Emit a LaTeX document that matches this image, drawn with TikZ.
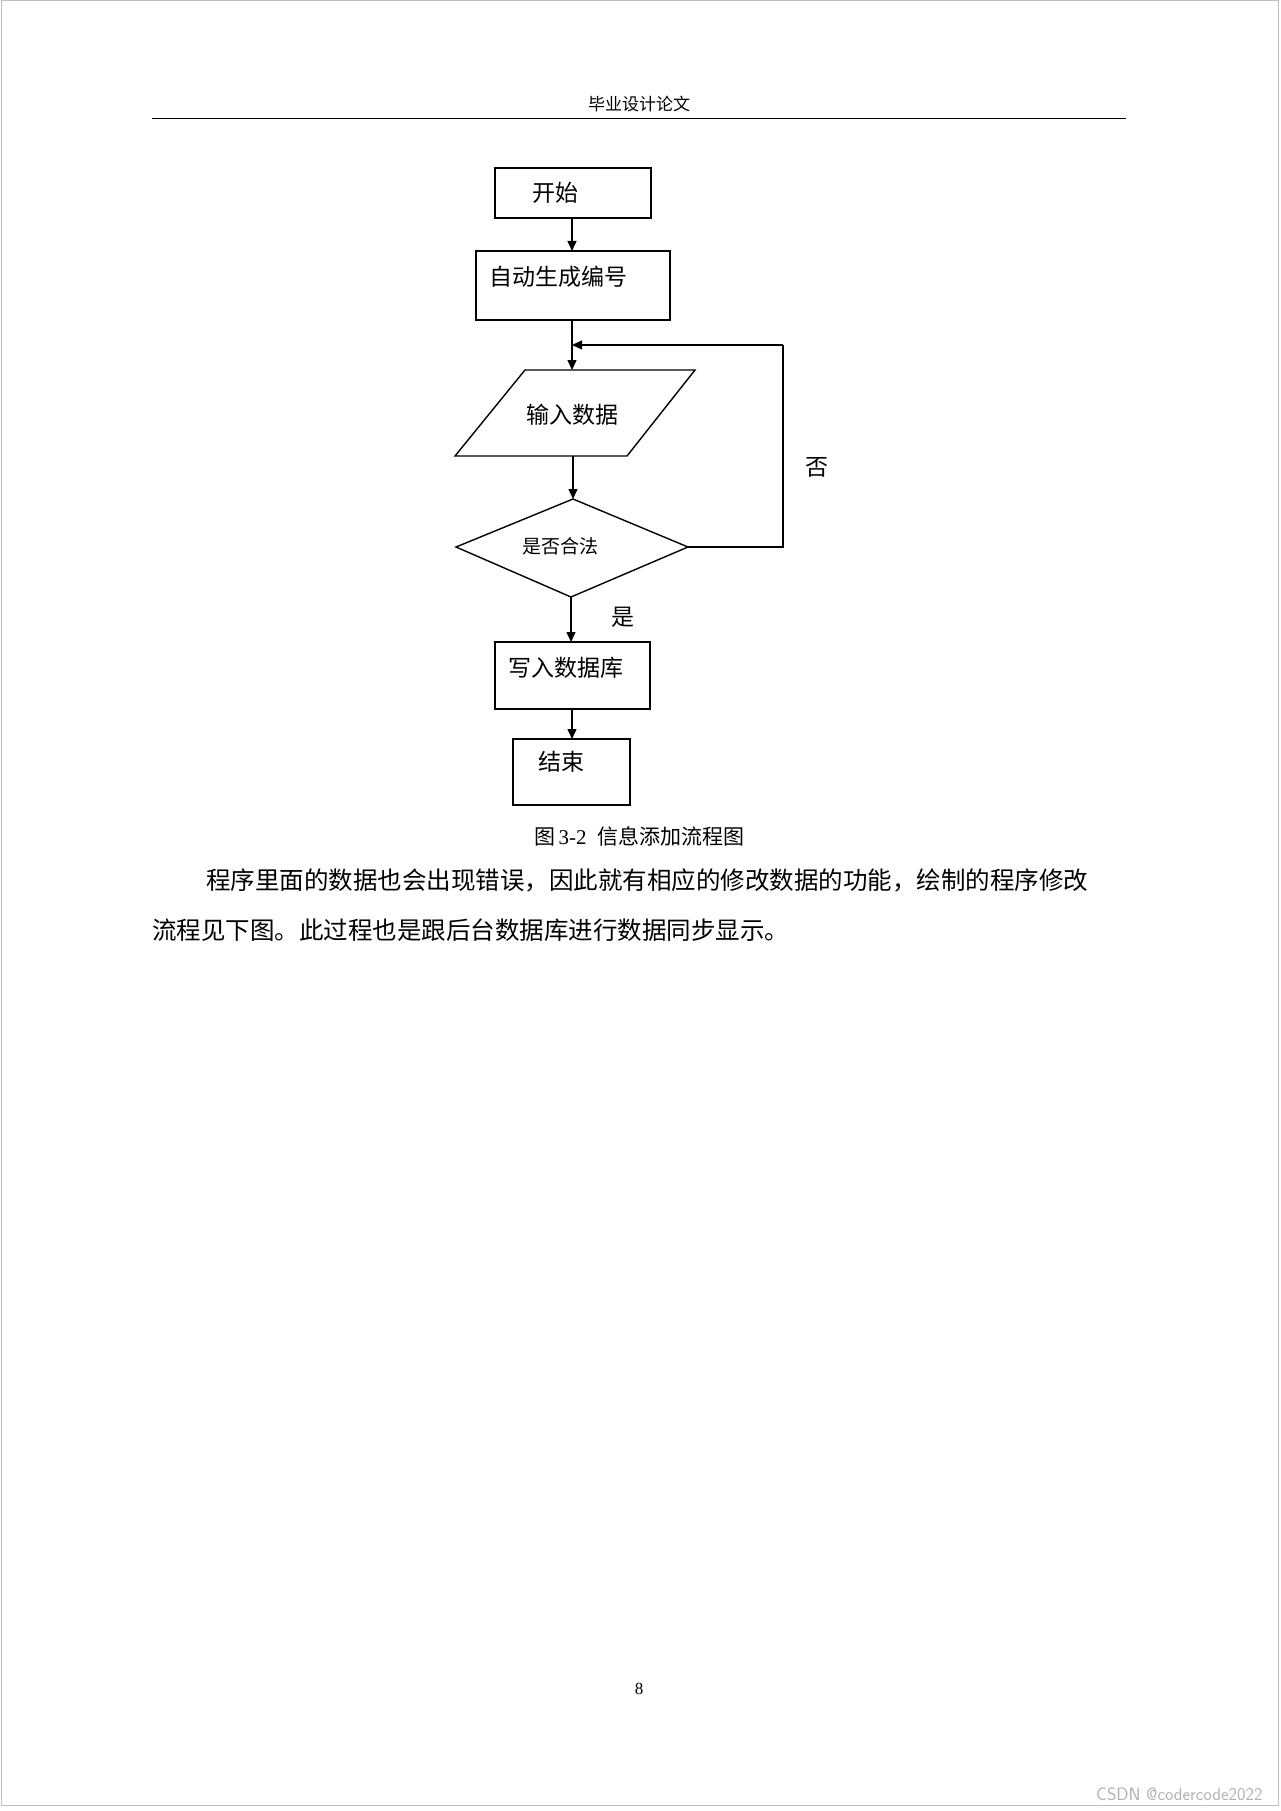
\documentclass[tikz,border=0pt]{standalone}
\usepackage{fontspec}
\setmainfont{Liberation Serif}
\newfontfamily\cjk{Noto Sans CJK SC}
\usetikzlibrary{arrows.meta}
\tikzset{
 box/.style={draw,line width=1.4pt,inner sep=0pt},
 arr/.style={line width=1.4pt,-{Triangle[length=10pt,width=9pt]}},
 ln/.style={line width=1.4pt},
 lbl/.style={font=\cjk\fontsize{23}{27}\selectfont,inner sep=0pt},
}
\begin{document}
\begin{tikzpicture}[x=1pt,y=-1pt]
\useasboundingbox (0,0) rectangle (1280,1811);
\draw[gray!50,line width=1pt] (1,1) rectangle (1278,1805);
\node[font=\cjk\fontsize{17}{20}\selectfont] (hdr) at (639,104) {毕业设计论文};
\coordinate (hl) at (152,119); \coordinate (hr) at (1126,119);
\draw[line width=1pt] (hl) -- (hr);
% flowchart
\draw[box] (495,168) rectangle (651,218); \node[lbl] (s) at (555,193) {开始};
\coordinate (sB) at (572,218);
\draw[box] (476,251) rectangle (670,320); \node[lbl] (g) at (558,277) {自动生成编号};
\coordinate (gT) at (572,251); \coordinate (gB) at (572,320);
\draw[box] (525,370) -- (695,370) -- (627,456) -- (455,456) -- cycle;
\node[lbl] (inp) at (572,415) {输入数据};
\coordinate (pT) at (572,370); \coordinate (pB) at (573,456);
\draw[box] (573,499) -- (688,547) -- (571,597) -- (456,547) -- cycle;
\node[lbl,font=\cjk\fontsize{19}{22}\selectfont] (d) at (560,546) {是否合法};
\coordinate (dT) at (573,499); \coordinate (dR) at (688,547); \coordinate (dB) at (571,597);
\coordinate (j) at (572,345);
\draw[box] (495,642) rectangle (650,709); \node[lbl] (w) at (566,668) {写入数据库};
\coordinate (wT) at (571,642); \coordinate (wB) at (572,709);
\draw[box] (513,739) rectangle (630,805); \node[lbl] (e) at (561,762) {结束};
\coordinate (eT) at (572,739);
\draw[arr] (sB) -- (gT);
\draw[arr] (gB) -- (pT);
\draw[arr] (pB) -- (dT);
\draw[arr] (dB) -- (wT);
\draw[arr] (wB) -- (eT);
\draw[ln] (dR) -- (783,547) -- (783,345);
\draw[arr] (783,345) -- (j);
\node[lbl] (no) at (817,467) {否};
\node[lbl] (yes) at (623,617) {是};
% caption and text
\node[font=\fontsize{21}{25}\selectfont] (cap) at (639,836) {\cjk 图\,\rmfamily 3-2\ \ \cjk 信息添加流程图};
\node[font=\cjk\fontsize{24.5}{28}\selectfont,anchor=west,inner sep=0pt] (p1) at (206,880) {程序里面的数据也会出现错误，因此就有相应的修改数据的功能，绘制的程序修改};
\node[font=\cjk\fontsize{24.5}{28}\selectfont,anchor=west,inner sep=0pt] (p2) at (152,930) {流程见下图。此过程也是跟后台数据库进行数据同步显示。};
\node[font=\fontsize{17}{20}\selectfont] (pg) at (639,1689) {8};
\node[font=\fontsize{18}{20}\selectfont\sffamily,text=gray!60,anchor=east] (wm) at (1266,1794) {CSDN @codercode2022};
\end{tikzpicture}
\end{document}
